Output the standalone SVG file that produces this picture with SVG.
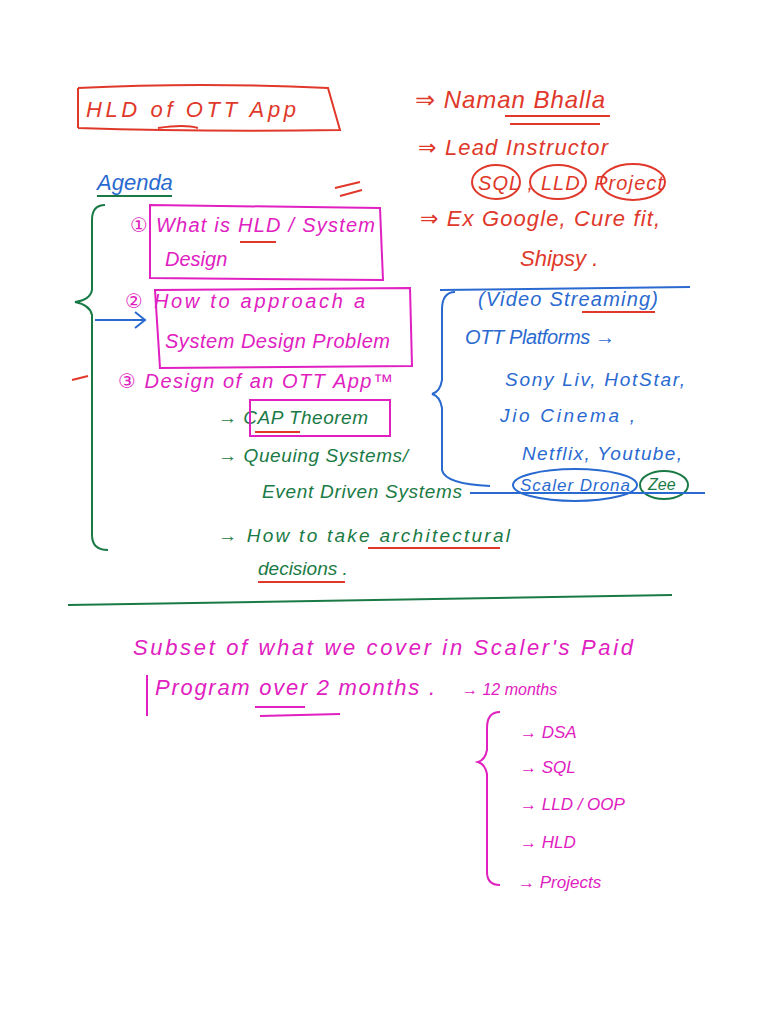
<svg xmlns="http://www.w3.org/2000/svg" width="768" height="1024" viewBox="0 0 768 1024">
<style>
text{font-family:"Liberation Sans","DejaVu Sans",sans-serif;font-style:italic}
.r{fill:#e0382a}.g{fill:#1a7a45}.b{fill:#2a6ad0}.m{fill:#e020c0}
.rs{stroke:#e0382a;fill:none;stroke-width:2}.gs{stroke:#1a7a45;fill:none;stroke-width:2}
.bs{stroke:#2a6ad0;fill:none;stroke-width:2}.ms{stroke:#e020c0;fill:none;stroke-width:2}
</style>
<rect width="768" height="1024" fill="#fff"/>
<path class="rs" d="M78 88 L78 128 M78 88 Q200 82 328 88 L340 130 Q200 132 78 128"/>
<text class="r" x="86" y="117" font-size="22" textLength="210">HLD  of  OTT App</text>
<path class="rs" d="M158 128 Q185 124 198 128"/>
<text class="r" x="415" y="108" font-size="24" textLength="190">⇒ Naman Bhalla</text>
<path class="rs" d="M505 116 L610 116 M510 124 L600 124"/>
<text class="r" x="418" y="155" font-size="22" textLength="190">⇒ Lead Instructor</text>
<text class="r" x="478" y="190" font-size="20" textLength="185">SQL ,  LLD,  Project</text>
<ellipse class="rs" cx="496" cy="182" rx="24" ry="17"/>
<ellipse class="rs" cx="558" cy="182" rx="28" ry="17"/>
<ellipse class="rs" cx="633" cy="182" rx="32" ry="18"/>
<text class="r" x="420" y="226" font-size="22" textLength="240">⇒ Ex Google, Cure fit,</text>
<text class="r" x="520" y="266" font-size="22">Shipsy .</text>
<text class="b" x="97" y="190" font-size="22">Agenda</text>
<path class="gs" d="M97 196 L172 196"/>
<path class="rs" d="M335 188 L360 182 M340 196 L362 190"/>
<path class="gs" d="M105 205 Q92 205 92 220 L92 290 Q90 300 75 302 Q90 305 92 315 L92 535 Q92 550 108 550"/>
<path class="ms" d="M150 205 L380 208 L383 280 L150 278 Z"/>
<text class="m" x="130" y="232" font-size="20" textLength="245">①  What is HLD / System</text>
<path class="rs" d="M240 242 L276 242"/>
<text class="m" x="165" y="266" font-size="20">Design</text>
<path class="ms" d="M155 290 L410 288 L412 366 L160 368 Z"/>
<text class="m" x="125" y="308" font-size="20" textLength="240">②  How to  approach  a</text>
<text class="m" x="165" y="348" font-size="20" textLength="225">System Design Problem</text>
<path class="bs" d="M95 320 L145 320 M135 312 L145 320 L135 328"/>
<path class="rs" d="M72 380 L88 376"/>
<text class="m" x="118" y="388" font-size="20" textLength="275">③  Design of an OTT App™</text>
<text class="g" x="218" y="424" font-size="19" textLength="150">→ CAP Theorem</text>
<path class="ms" d="M250 400 L390 400 L390 436 L250 436 Z"/>
<path class="rs" d="M255 432 L300 432"/>
<text class="g" x="218" y="462" font-size="19" textLength="190">→ Queuing Systems/</text>
<text class="g" x="262" y="498" font-size="19" textLength="200">Event Driven Systems</text>
<text class="g" x="218" y="542" font-size="19" textLength="292">→ How to take architectural</text>
<path class="rs" d="M368 548 L500 548"/>
<text class="g" x="258" y="575" font-size="19">decisions .</text>
<path class="rs" d="M258 582 L345 582"/>
<path class="bs" d="M440 290 L690 287"/>
<path class="bs" d="M455 292 Q442 292 442 310 L442 380 Q440 392 432 394 Q440 396 442 408 L442 470 Q445 484 490 486"/>
<text class="b" x="478" y="306" font-size="20" textLength="180">(Video Streaming)</text>
<path class="rs" d="M582 312 L655 312"/>
<text class="b" x="465" y="344" font-size="20" textLength="150">OTT Platforms →</text>
<text class="b" x="505" y="386" font-size="19" textLength="180">Sony Liv, HotStar,</text>
<text class="b" x="500" y="422" font-size="19" textLength="135">Jio Cinema ,</text>
<text class="b" x="522" y="460" font-size="19" textLength="160">Netflix, Youtube,</text>
<ellipse class="bs" cx="575" cy="485" rx="62" ry="16"/>
<text class="b" x="520" y="491" font-size="17" textLength="110">Scaler Drona</text>
<ellipse class="gs" cx="664" cy="485" rx="24" ry="14"/>
<text class="g" x="648" y="490" font-size="16">Zee</text>
<path class="bs" d="M470 493 L705 493"/>
<path class="gs" d="M68 605 L672 595"/>
<text class="m" x="133" y="655" font-size="22" textLength="500">Subset  of  what  we  cover  in  Scaler's Paid</text>
<path class="ms" d="M147 675 L147 716"/>
<text class="m" x="155" y="695" font-size="22" textLength="280">Program over 2 months .</text>
<text class="m" x="462" y="695" font-size="16">→ 12 months</text>
<path class="ms" d="M255 707 L305 707 M260 716 L340 714"/>
<path class="ms" d="M500 712 Q487 712 487 728 L487 750 Q485 760 478 762 Q485 764 487 774 L487 872 Q487 885 500 885"/>
<text class="m" x="520" y="738" font-size="17">→ DSA</text>
<text class="m" x="520" y="773" font-size="17">→ SQL</text>
<text class="m" x="520" y="810" font-size="17">→ LLD / OOP</text>
<text class="m" x="520" y="848" font-size="17">→ HLD</text>
<text class="m" x="518" y="888" font-size="17">→ Projects</text>
</svg>
